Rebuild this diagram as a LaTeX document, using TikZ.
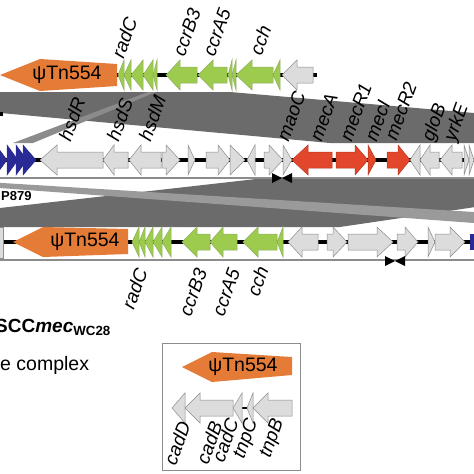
\documentclass[tikz,border=0pt]{standalone}
\usepackage{fontspec}
\setmainfont{Liberation Sans}
\definecolor{MyOrange}{HTML}{E47B36}
\definecolor{MyGreen}{HTML}{9CCB4E}
\definecolor{MyRed}{HTML}{E2472B}
\definecolor{MyBlue}{HTML}{2A2A96}
\definecolor{MyGrey}{HTML}{DCDCDC}
\definecolor{MyEdge}{HTML}{8C8C8C}
\definecolor{MyDark}{HTML}{6B6B6B}
\definecolor{MyLight}{HTML}{9A9A9A}

% left-pointing gene: tip, head base, end, y
\newcommand{\geneL}[5][]{\draw[gene,#1] (#2,#5) -- (#3,#5-15) -- (#3,#5-8) -- (#4,#5-8) -- (#4,#5+8) -- (#3,#5+8) -- (#3,#5+15) -- cycle;}
% right-pointing gene: start, head base, tip, y
\newcommand{\geneR}[5][]{\draw[gene,#1] (#2,#5-8) -- (#3,#5-8) -- (#3,#5-15) -- (#4,#5) -- (#3,#5+15) -- (#3,#5+8) -- (#2,#5+8) -- cycle;}

\tikzset{
  gene/.style={draw=MyEdge, line width=0.5pt, fill=MyGrey},
  green/.style={fill=MyGreen, draw=MyGreen!60!gray},
  red/.style={fill=MyRed, draw=MyRed!80!black},
  blue/.style={fill=MyBlue, draw=MyBlue},
  tn/.style={fill=MyOrange},
  chrom/.style={line width=3.5pt, black},
  frame/.style={MyEdge, line width=1.2pt},
  lab/.style={font=\fontsize{19}{19}\selectfont\itshape, inner sep=0pt, rotate=70},
  tnlab/.style={font=\fontsize{19.5}{19.5}\selectfont, inner sep=0pt}
}

\begin{document}
\begin{tikzpicture}[x=1pt, y=-1pt]
	\useasboundingbox (0,0) rectangle (474,474);
	\clip (0,0) rectangle (474,474);
	
	% bands
	\fill[MyDark] (-230,92) -- (230,92) -- (823,143) -- (330,143) -- cycle;
	\fill[MyLight!90!black] (148,92) -- (156,92) -- (33,143) -- (13,143) -- cycle;
	\fill[MyDark] (265,178) -- (672,178) -- (340,227) -- (-168,227) -- cycle;
	\fill[MyLight] (-136,178) -- (-79,178) -- (718,227) -- (528,227) -- cycle;
	\draw[frame] (0,178) -- (474,178);
	\draw[frame] (0,260) -- (474,260);
	
	% top row
	\draw[chrom] (117,75) -- (317,75);
	\fill[tn] (0,75) -- (40,59) -- (117,64) -- (117,86) -- (40,91) -- cycle;
	\node[tnlab] (tnA) at (67,75) {ψTn554};
	\foreach \a/\b in {118/124,124/131,131/143,143/153,153/157}{
	\geneL[green]{\a}{\b}{\b}{75}}
	\foreach \a/\b/\c in {166/180/197,198/213/227,228/232/232,232/236/236,236/252/273,273/280/280}{
	\geneL[green]{\a}{\b}{\c}{75}}
	\geneL{282}{297}{313}{75}
	
	\node[lab, anchor=south west] (radCa) at (124,60) {radC};
	\node[lab, anchor=south west] (ccrBa) at (185,58) {ccrB3};
	\node[lab, anchor=south west] (ccrAa) at (215,58) {ccrA5};
	\node[lab, anchor=south west] (ccha) at (262,57) {cch};
	
	% middle row
	\fill (0,112) rectangle (3,116);
	\draw[chrom] (0,160) -- (474,160);
	\foreach \a/\b in {-4/7,7/18,16/27,23/36}{
	\geneR[blue]{\a}{\a}{\b}{160}}
	\foreach \a/\b/\c in {40/57/103,103/114/128,129/141/161,247/255/255,410/420/420,420/430/439,440/452/462}{
	\geneL{\a}{\b}{\c}{160}}
	\foreach \a/\b/\c in {162/166/180,188/188/195,206/218/230,230/230/245,264/269/283,283/283/292,464/464/469,469/469/474}{
	\geneR{\a}{\b}{\c}{160}}
	\geneL[red]{292}{308}{332}{160}
	\geneR[red]{336}{355}{368}{160}
	\geneR[red]{368}{368}{376}{160}
	\geneR[red]{387}{398}{410}{160}
	\fill (272,173) -- (282,178) -- (272,183) -- cycle (292,173) -- (282,178) -- (292,183) -- cycle;
	
	\node[lab, anchor=south west] (hsdR) at (71,143) {hsdR};
	\node[lab, anchor=south west] (hsdS) at (119,143) {hsdS};
	\node[lab, anchor=south west] (hsdM) at (151,143) {hsdM};
	\node[lab, anchor=south west] (maoC) at (289,143) {maoC};
	\node[lab, anchor=south west] (mecA) at (322,143) {mecA};
	\node[lab, anchor=south west] (mecR1) at (352,143) {mecR1};
	\node[lab, anchor=south west] (mecI) at (377,143) {mecI};
	\node[lab, anchor=south west] (mecR2) at (397,142) {mecR2};
	\node[lab, anchor=south west] (gloB) at (437,144) {gloB};
	\node[lab, anchor=south west] (yrkE) at (459,144) {yrkE};
	\node[font=\fontsize{13}{13}\selectfont\bfseries, anchor=base west, inner sep=0pt] (strain) at (1,200) {P879};
	
	% bottom row
	\draw[chrom] (0,242) -- (474,242);
	\draw[gene] (-5,227) rectangle (3,258);
	\fill[tn] (13,242) -- (43,227) -- (128,229) -- (128,254) -- (43,257) -- cycle;
	\node[tnlab] (tnB) at (85,242) {ψTn554};
	\foreach \a/\b in {132/139,139/145,145/153,153/162,162/171}{
	\geneL[green]{\a}{\b}{\b}{242}}
	\foreach \a/\b/\c in {182/197/210,210/223/237,243/258/277,277/283/283}{
	\geneL[green]{\a}{\b}{\c}{242}}
	\geneL{288}{302}{318}{242}
	\foreach \a/\b/\c in {327/333/347,348/377/393,397/405/418,428/428/435,435/450/465}{
	\geneR{\a}{\b}{\c}{242}}
	\fill[MyBlue] (470,234) rectangle (480,250);
	\fill (385,256) -- (395,261) -- (385,266) -- cycle (405,256) -- (395,261) -- (405,266) -- cycle;
	
	\node[lab, anchor=north east] (radCb) at (135,267) {radC};
	\node[lab, anchor=north east] (ccrBb) at (195,267) {ccrB3};
	\node[lab, anchor=north east] (ccrAb) at (228,267) {ccrA5};
	\node[lab, anchor=north east] (cchb) at (256,265) {cch};
	
	\node[font=\fontsize{19}{19}\selectfont\bfseries, anchor=base west, inner sep=0pt] (scc) at (-5,332) {SCC\textit{mec}\textsubscript{WC28}};
	\node[font=\fontsize{19.5}{19.5}\selectfont, anchor=base west, inner sep=0pt] (cplx) at (0,370) {e complex};
	
	% legend
	\draw[MyEdge, line width=0.8pt, fill=white] (162,343) rectangle (300,470);
	\fill[tn] (182,367) -- (212,352) -- (292,357) -- (292,375) -- (212,382) -- cycle;
	\node[tnlab] (tnC) at (243,367) {ψTn554};
	\draw[chrom, line width=2.5pt] (242,408) -- (247,408);
	\foreach \a/\b/\c in {172/185/185,185/200/233,233/242/242,247/253/253,253/268/292}{
	\geneL{\a}{\b}{\c}{408}}
	\node[lab, anchor=north east] (cadD) at (178,420) {cadD};
	\node[lab, anchor=north east] (cadB) at (210,420) {cadB};
	\node[lab, anchor=north east] (cadC) at (226,417) {cadC};
	\node[lab, anchor=north east] (tnpC) at (245,417) {tnpC};
	\node[lab, anchor=north east] (tnpB) at (271,417) {tnpB};
\end{tikzpicture}
\end{document}
